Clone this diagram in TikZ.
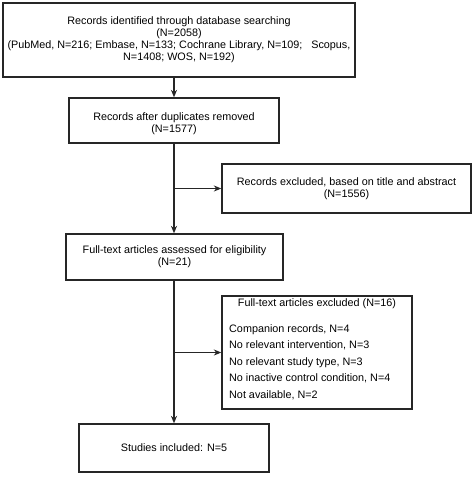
\documentclass[tikz,border=0pt]{standalone}
\usepackage{fontspec}
\setmainfont{Liberation Sans}
\usetikzlibrary{arrows.meta}
\begin{document}
\begin{tikzpicture}[x=1pt,y=-1pt,
  box/.style={draw=black!85,line width=1.3pt,inner sep=0pt,align=center,font=\fontsize{10.8}{12}\selectfont},
  arr/.style={draw=black!85,line width=1.3pt,-{Stealth[length=7.5pt,width=6pt]}},
  ln/.style={draw=black!85,line width=1.3pt}]
\useasboundingbox (0,0) rectangle (474,496);
\node[box,minimum width=352pt,minimum height=74pt] (b1) at (179,40)
  {Records identified through database searching\\(N=2058)\\(PubMed, N=216; Embase, N=133; Cochrane Library, N=109;\ \ \ Scopus,\\N=1408; WOS, N=192)};
\node[box,minimum width=210pt,minimum height=45pt] (b2) at (174,120.5)
  {\rule{0pt}{14pt}Records after duplicates removed\\(N=1577)};
\node[box,minimum width=249pt,minimum height=49pt] (e1) at (346.5,188.5)
  {Records excluded, based on title and abstract\\(N=1556)};
\node[box,minimum width=217pt,minimum height=46pt] (b3) at (174.5,257)
  {Full-text articles assessed for eligibility\\(N=21)};
\node[box,minimum width=190pt,minimum height=113pt] (e2) at (317,352.5) {};
\node[font=\fontsize{10.8}{12}\selectfont,inner sep=0pt,anchor=north] (e2t) at (317,298) {Full-text articles excluded (N=16)};
\node[font=\fontsize{10.8}{16.6}\selectfont,inner sep=0pt,align=left,anchor=north west] (e2l) at (229,324)
  {Companion records, N=4\\No relevant intervention, N=3\\No relevant study type, N=3\\No inactive control condition, N=4\\Not available, N=2};
\node[box,minimum width=190pt,minimum height=48pt] (b4) at (174,448) {Studies included: N=5};
\draw[arr] (b2.north |- b1.south) -- (b2.north);
\draw[arr] (b2.south) -- (b2.south |- b3.north);
\draw[arr] (b2.south |- e1.west) -- (e1.west);
\draw[arr] (b2.south |- b3.south) -- (b2.south |- b4.north);
\draw[arr] (b2.south |- e2.west) -- (e2.west);
\end{tikzpicture}
\end{document}
